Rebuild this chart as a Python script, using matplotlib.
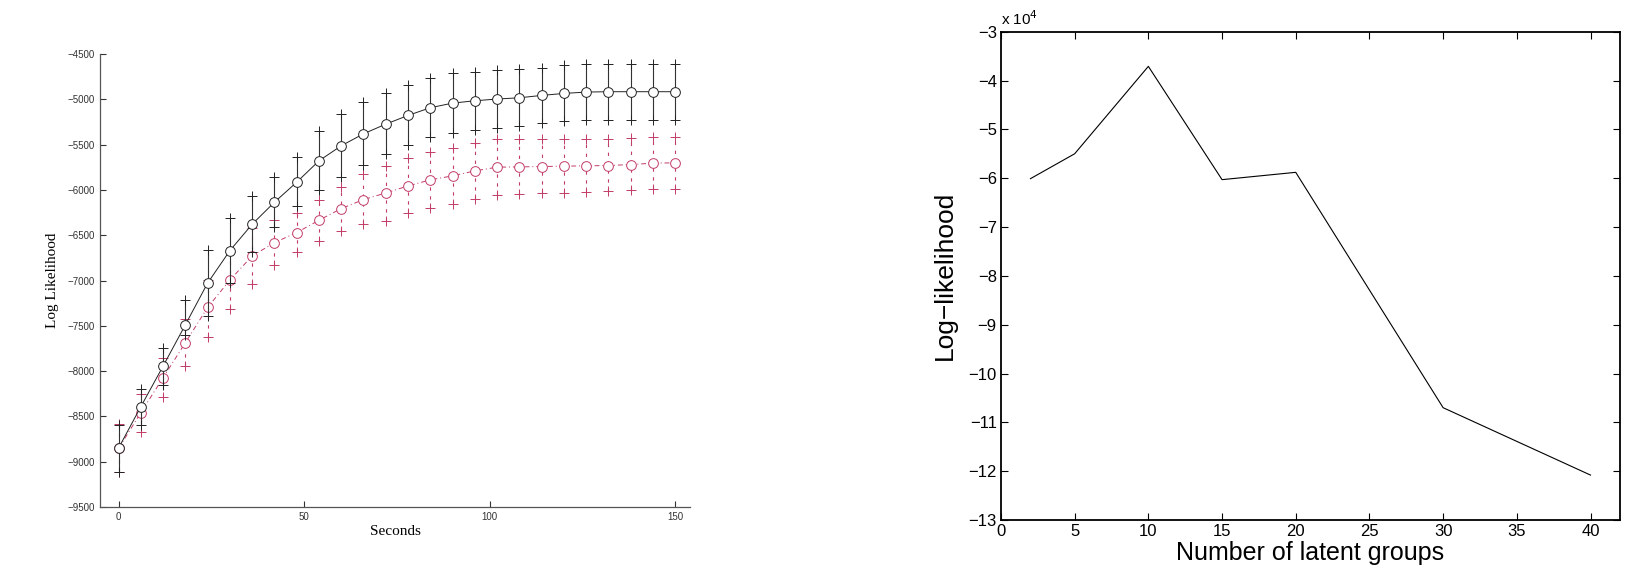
import matplotlib
matplotlib.use("Agg")
import matplotlib.pyplot as plt
import numpy as np

# ---- Left panel data ----
seconds = [0, 6, 12, 18, 24, 30, 36, 42, 48, 54, 60, 66, 72, 78, 84, 90, 96, 102,
           108, 114, 120, 126, 132, 138, 144, 150]
black_mean = [-8850, -8393, -7945, -7489, -7028, -6670, -6379, -6136, -5915, -5679,
              -5513, -5381, -5274, -5178, -5093, -5042, -5016, -4997, -4983, -4957,
              -4935, -4920, -4916, -4916, -4916, -4916]
black_upper = [-8590, -8198, -7743, -7217, -6667, -6313, -6070, -5852, -5639, -5348,
               -5167, -5031, -4931, -4846, -4769, -4714, -4695, -4673, -4670, -4658,
               -4625, -4611, -4611, -4611, -4611, -4611]
black_lower = [-9110, -8595, -8150, -7600, -7393, -7030, -6690, -6412, -6177, -6003,
               -5856, -5727, -5606, -5506, -5421, -5373, -5340, -5318, -5296, -5263,
               -5241, -5230, -5226, -5226, -5226, -5226]
red_mean = [-8853, -8459, -8073, -7687, -7297, -6995, -6729, -6582, -6471, -6335,
            -6206, -6107, -6033, -5956, -5889, -5845, -5790, -5749, -5746, -5742,
            -5738, -5734, -5731, -5720, -5705, -5701]
red_upper = [-8588, -8250, -7860, -7430, -6990, -6680, -6416, -6330, -6250, -6110,
             -5963, -5827, -5734, -5650, -5587, -5539, -5484, -5440, -5440, -5440,
             -5440, -5440, -5440, -5432, -5414, -5414]
red_lower = [-9110, -8673, -8283, -7941, -7625, -7313, -7042, -6832, -6685, -6560,
             -6453, -6380, -6339, -6258, -6195, -6155, -6103, -6059, -6044, -6037,
             -6033, -6026, -6015, -6000, -5992, -5992]
left_xticks = [0, 50, 100, 150]
left_yticks = [-9500, -9000, -8500, -8000, -7500, -7000, -6500, -6000, -5500, -5000, -4500]

# ---- Right panel data ----
groups = [2, 5, 10, 15, 20, 30, 40]
loglik_e4 = [-6.01, -5.50, -3.71, -6.03, -5.88, -10.70, -12.08]
right_xticks = [0, 5, 10, 15, 20, 25, 30, 35, 40]
right_yticks = [-13, -12, -11, -10, -9, -8, -7, -6, -5, -4, -3]

RED = '#c23c66'

fig = plt.figure(figsize=(16.26, 5.71), dpi=100)

# ---------------- Left panel ----------------
ax1 = fig.add_axes([0.0615, 0.1121, 0.3629, 0.7933])
x = np.array(seconds)
bm, bu, bl = np.array(black_mean), np.array(black_upper), np.array(black_lower)
rm, ru, rl = np.array(red_mean), np.array(red_upper), np.array(red_lower)

# red series
ax1.vlines(x, rl, ru, colors=RED, linestyles=(0, (3, 5)), linewidth=0.8)
ax1.plot(x, ru, linestyle='none', marker='+', color=RED, markersize=6.5, mew=0.7)
ax1.plot(x, rl, linestyle='none', marker='+', color=RED, markersize=6.5, mew=0.7)
ax1.plot(x, rm, linestyle=(0, (5, 3, 1, 3)), color=RED, linewidth=0.7,
         marker='o', markersize=7, markerfacecolor='white', markeredgecolor=RED, mew=0.7)

# black series
ax1.vlines(x, bl, bu, colors='#333333', linewidth=0.8)
ax1.plot(x, bu, linestyle='none', marker='+', color='#222222', markersize=6.5, mew=0.7)
ax1.plot(x, bl, linestyle='none', marker='+', color='#222222', markersize=6.5, mew=0.7)
ax1.plot(x, bm, linestyle='-', color='#222222', linewidth=0.7,
         marker='o', markersize=7, markerfacecolor='white', markeredgecolor='#222222', mew=0.7)

ax1.set_xlim(-5, 154)
ax1.set_ylim(-9500, -4500)
ax1.set_xticks(left_xticks)
ax1.set_yticks(left_yticks)
for s in ['top', 'right']:
    ax1.spines[s].set_visible(False)
for s in ['left', 'bottom']:
    ax1.spines[s].set_color('#555555')
    ax1.spines[s].set_linewidth(0.9)
ax1.tick_params(direction='in', length=4, width=0.8, colors='#333333', labelsize=7,
                labelfontfamily='Liberation Sans')
ax1.set_xlabel('Seconds', family='Liberation Serif', fontsize=11, labelpad=2)
ax1.set_ylabel('Log Likelihood', family='Liberation Serif', fontsize=11, labelpad=6)

# ---------------- Right panel ----------------
ax2 = fig.add_axes([0.6156, 0.0893, 0.3807, 0.8552])
ax2.plot(groups, loglik_e4, color='black', linewidth=0.8)
ax2.set_xlim(0, 42)
ax2.set_ylim(-13, -3)
ax2.set_xticks(right_xticks)
ax2.set_yticks(right_yticks)
ax2.set_yticklabels(['\u2212%d' % abs(v) for v in right_yticks])
for s in ax2.spines.values():
    s.set_linewidth(1.3)
ax2.tick_params(direction='in', length=5, width=0.8, labelsize=12, top=True, right=True,
                labelfontfamily='Liberation Sans', pad=3)
ax2.tick_params(axis='x', pad=3)
ax2.set_xlabel('Number of latent groups', family='Liberation Sans', fontsize=18, labelpad=1)
ax2.set_ylabel('Log\u2212likelihood', family='Liberation Sans', fontsize=19, labelpad=8)
ax2.text(0.0, 1.008, r'x 10$^{4}$', transform=ax2.transAxes, fontsize=11,
         family='Liberation Sans', ha='left', va='bottom')

fig.savefig('out.png', dpi=100)
